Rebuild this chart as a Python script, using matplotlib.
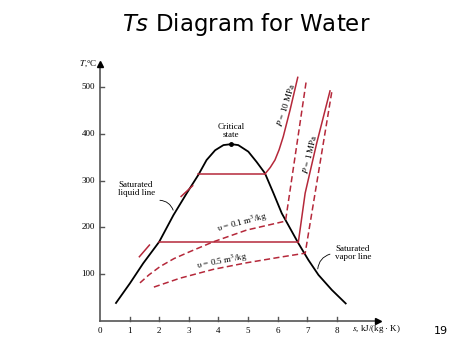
import matplotlib
matplotlib.use("Agg")
import matplotlib.pyplot as plt

plt.rcParams['mathtext.fontset'] = 'stix'

# saturation dome (s in kJ/(kg K), T in C)
liq_s = [0.54, 1.01, 1.46, 2.0, 2.48, 2.93, 3.32, 3.60, 3.89, 4.17, 4.43]
liq_T = [38, 80, 123, 169, 226, 273, 312, 344, 365, 376, 378]
vap_s = [4.43, 4.67, 5.01, 5.29, 5.57, 5.86, 6.14, 6.42, 6.70, 7.04, 7.38, 7.83, 8.30]
vap_T = [378, 376, 362, 340, 316, 273, 230, 198, 166, 130, 98, 66, 37]

# constant pressure lines
p10_liq_s = [2.74, 3.13]
p10_liq_T = [266, 289]
p10_sat_s = [3.32, 5.57]
p10_sat_T = [314, 314]
p10_sup_s = [5.57, 5.75, 5.91, 6.05, 6.19, 6.42, 6.68]
p10_sup_T = [314, 328, 344, 366, 394, 451, 521]

p1_liq_s = [1.33, 1.67]
p1_liq_T = [137, 162]
p1_sat_s = [2.0, 6.70]
p1_sat_T = [168, 168]
p1_sup_s = [6.70, 6.93, 7.32, 7.77]
p1_sup_T = [168, 273, 380, 492]

# constant specific volume lines
v01_s = [1.35, 1.65, 2.03, 2.5, 3.04, 3.83, 4.95, 6.25, 6.28, 6.96]
v01_T = [81, 98, 116, 133, 148, 169, 194, 213, 219, 510]
v05_s = [1.82, 2.70, 3.83, 4.95, 6.08, 6.87, 6.93, 7.83]
v05_T = [72, 91, 110, 124, 136, 144, 144, 490]

xticks = [1, 2, 3, 4, 5, 6, 7, 8]
yticks = [100, 200, 300, 400, 500]

red = '#b5283a'
grey = '#555555'
serif = 'Liberation Serif'

fig = plt.figure(figsize=(4.74, 3.55), dpi=100)
ax = fig.add_axes([0.1985, 0.0834, 0.612, 0.75])
ax.set_xlim(-0.2, 9.6)
ax.set_ylim(-10, 560)

ax.plot(liq_s, liq_T, color='black', lw=1.3, solid_joinstyle='round')
ax.plot(vap_s, vap_T, color='black', lw=1.3, solid_joinstyle='round')
ax.plot([4.43], [378], 'o', color='black', ms=2.5)

for s, T in [(p10_liq_s, p10_liq_T), (p10_sat_s, p10_sat_T), (p10_sup_s, p10_sup_T),
             (p1_liq_s, p1_liq_T), (p1_sat_s, p1_sat_T), (p1_sup_s, p1_sup_T)]:
    ax.plot(s, T, color=red, lw=1.1, solid_joinstyle='round')

ax.plot(v01_s, v01_T, color=red, lw=1.1, dashes=(4, 2.2))
ax.plot(v05_s, v05_T, color=red, lw=1.1, dashes=(4, 2.2))

# axes drawn as arrows
for sp in ax.spines.values():
    sp.set_visible(False)
ax.plot([0, 9.4], [0, 0], color=grey, lw=1.2, clip_on=False)
ax.plot([0, 0], [0, 550], color=grey, lw=1.2, clip_on=False)
ax.plot([9.4], [0], marker='>', color='black', ms=4, clip_on=False)
ax.plot([0], [550], marker='^', color='black', ms=4, clip_on=False)

ax.set_xticks([])
ax.set_yticks([])
for x in xticks:
    ax.plot([x, x], [0, 9], color=grey, lw=1)
    ax.text(x, -14, str(x), ha='center', va='top', family=serif, fontsize=6.5)
ax.text(0, -14, '0', ha='center', va='top', family=serif, fontsize=6.5)
for y in yticks:
    ax.plot([0, 0.15], [y, y], color=grey, lw=1)
    ax.text(-0.17, y, str(y), ha='right', va='center', family=serif, fontsize=6.5)

ax.text(-0.4, 550, r'$T$,°C', ha='center', va='center', family=serif, fontsize=6.5, clip_on=False)
ax.text(8.51, -17, r'$s$, kJ/(kg · K)', ha='left', va='center', family=serif, fontsize=6.5, clip_on=False)

ax.text(4.43, 406, 'Critical\nstate', ha='center', va='center', family=serif, fontsize=6.5, linespacing=1.0)
ax.text(0.61, 282, 'Saturated\nliquid line', ha='left', va='center', family=serif, fontsize=6.5, linespacing=1.0)
ax.text(7.94, 145, 'Saturated\nvapor line', ha='left', va='center', family=serif, fontsize=6.5, linespacing=1.0)
ax.annotate('', xy=(2.5, 231), xytext=(1.93, 258),
            arrowprops=dict(arrowstyle='-', color='black', lw=0.6, connectionstyle='arc3,rad=-0.4'))
ax.annotate('', xy=(7.35, 105), xytext=(7.86, 144),
            arrowprops=dict(arrowstyle='-', color='black', lw=0.6, connectionstyle='arc3,rad=0.4'))

ax.text(6.27, 462, r'$P$ = 10 MPa', rotation=73, ha='center', va='center', family=serif, fontsize=6.5)
ax.text(7.09, 356, r'$P$ = 1 MPa', rotation=77, ha='center', va='center', family=serif, fontsize=6.5)
ax.text(4.79, 210, r'υ = 0.1 m$^3$/kg', rotation=15, ha='center', va='center', family=serif, fontsize=6.5)
ax.text(4.11, 126, r'υ = 0.5 m$^3$/kg', rotation=11, ha='center', va='center', family=serif, fontsize=6.5)

fig.text(0.52, 0.93, r'$\mathit{Ts}$ Diagram for Water', ha='center', va='center',
         fontsize=16.5, math_fontfamily='dejavusans')
fig.text(0.93, 0.068, '19', ha='center', va='center', fontsize=8)

fig.savefig('out.png', dpi=100)
